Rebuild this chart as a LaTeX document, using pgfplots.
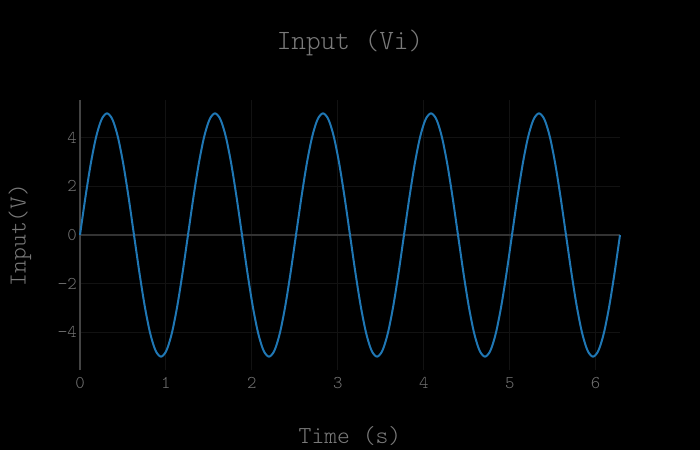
\documentclass[border=0pt]{standalone}
\usepackage{pgfplots}
\pgfplotsset{compat=1.18}
\usepackage{fontspec}
\setmainfont{Latin Modern Mono Light}
\definecolor{txt}{HTML}{7A7A7A}
\definecolor{tick}{HTML}{727272}
\definecolor{gridc}{HTML}{121212}
\definecolor{zeroc}{HTML}{333333}
\definecolor{axc}{HTML}{444444}
\definecolor{line}{HTML}{1F77B4}
\begin{document}
\begin{tikzpicture}
\fill[black] (-80bp,-80bp) rectangle (620bp,370bp);
\begin{axis}[
  scale only axis,
  width=540bp, height=270bp,
  at={(0,0)}, anchor=south west,
  xmin=0, xmax=6.2832,
  ymin=-5.55, ymax=5.55,
  axis line style={draw=none},
  axis x line*=bottom,
  axis y line*=left,
  xtick={0,1,2,3,4,5,6},
  ytick={-4,-2,0,2,4},
  yticklabels={−4,−2,0,2,4},
  xticklabels={0,1,2,3,4,5,6},
  major tick length=0pt,
  grid=major,
  grid style={gridc, line width=1bp},
  xticklabel style={inner sep=0pt, yshift=-7bp, text=tick, font=\fontsize{18}{20}\selectfont},
  yticklabel style={inner sep=0pt, xshift=-3bp, text=tick, font=\fontsize{18}{20}\selectfont},
  clip=false,
]
\draw[zeroc, line width=2bp] (axis cs:0,0) -- (axis cs:6.2832,0);
\draw[axc, line width=1.2bp] (axis cs:0,-5.55) -- (axis cs:0,5.55);
\addplot[line, line width=2bp, smooth, no marks] table {
x y
0 0
0.0628 1.5451
0.1257 2.9389
0.1885 4.0451
0.2513 4.7553
0.3142 5
0.3770 4.7553
0.4398 4.0451
0.5027 2.9389
0.5655 1.5451
0.6283 0
0.6912 -1.5451
0.7540 -2.9389
0.8168 -4.0451
0.8796 -4.7553
0.9425 -5
1.0053 -4.7553
1.0681 -4.0451
1.1310 -2.9389
1.1938 -1.5451
1.2566 0
1.3195 1.5451
1.3823 2.9389
1.4451 4.0451
1.5080 4.7553
1.5708 5
1.6336 4.7553
1.6965 4.0451
1.7593 2.9389
1.8221 1.5451
1.8850 0
1.9478 -1.5451
2.0106 -2.9389
2.0735 -4.0451
2.1363 -4.7553
2.1991 -5
2.2619 -4.7553
2.3248 -4.0451
2.3876 -2.9389
2.4504 -1.5451
2.5133 0
2.5761 1.5451
2.6389 2.9389
2.7018 4.0451
2.7646 4.7553
2.8274 5
2.8903 4.7553
2.9531 4.0451
3.0159 2.9389
3.0788 1.5451
3.1416 0
3.2044 -1.5451
3.2673 -2.9389
3.3301 -4.0451
3.3929 -4.7553
3.4558 -5
3.5186 -4.7553
3.5814 -4.0451
3.6442 -2.9389
3.7071 -1.5451
3.7699 0
3.8327 1.5451
3.8956 2.9389
3.9584 4.0451
4.0212 4.7553
4.0841 5
4.1469 4.7553
4.2097 4.0451
4.2726 2.9389
4.3354 1.5451
4.3982 0
4.4611 -1.5451
4.5239 -2.9389
4.5867 -4.0451
4.6496 -4.7553
4.7124 -5
4.7752 -4.7553
4.8381 -4.0451
4.9009 -2.9389
4.9637 -1.5451
5.0265 0
5.0894 1.5451
5.1522 2.9389
5.2150 4.0451
5.2779 4.7553
5.3407 5
5.4035 4.7553
5.4664 4.0451
5.5292 2.9389
5.5920 1.5451
5.6549 0
5.7177 -1.5451
5.7805 -2.9389
5.8434 -4.0451
5.9062 -4.7553
5.9690 -5
6.0319 -4.7553
6.0947 -4.0451
6.1575 -2.9389
6.2204 -1.5451
6.2832 0
};
\end{axis}
\node[text=txt, font=\fontsize{28}{32}\selectfont, inner sep=0pt] at (270bp,327bp) {Input (Vi)};
\node[text=txt, font=\fontsize{24.5}{28}\selectfont, inner sep=0pt] at (270bp,-66bp) {Time (s)};
\node[text=txt, font=\fontsize{24.5}{28}\selectfont, inner sep=0pt, rotate=90] at (-60bp,135bp) {Input(V)};
\end{tikzpicture}
\end{document}
